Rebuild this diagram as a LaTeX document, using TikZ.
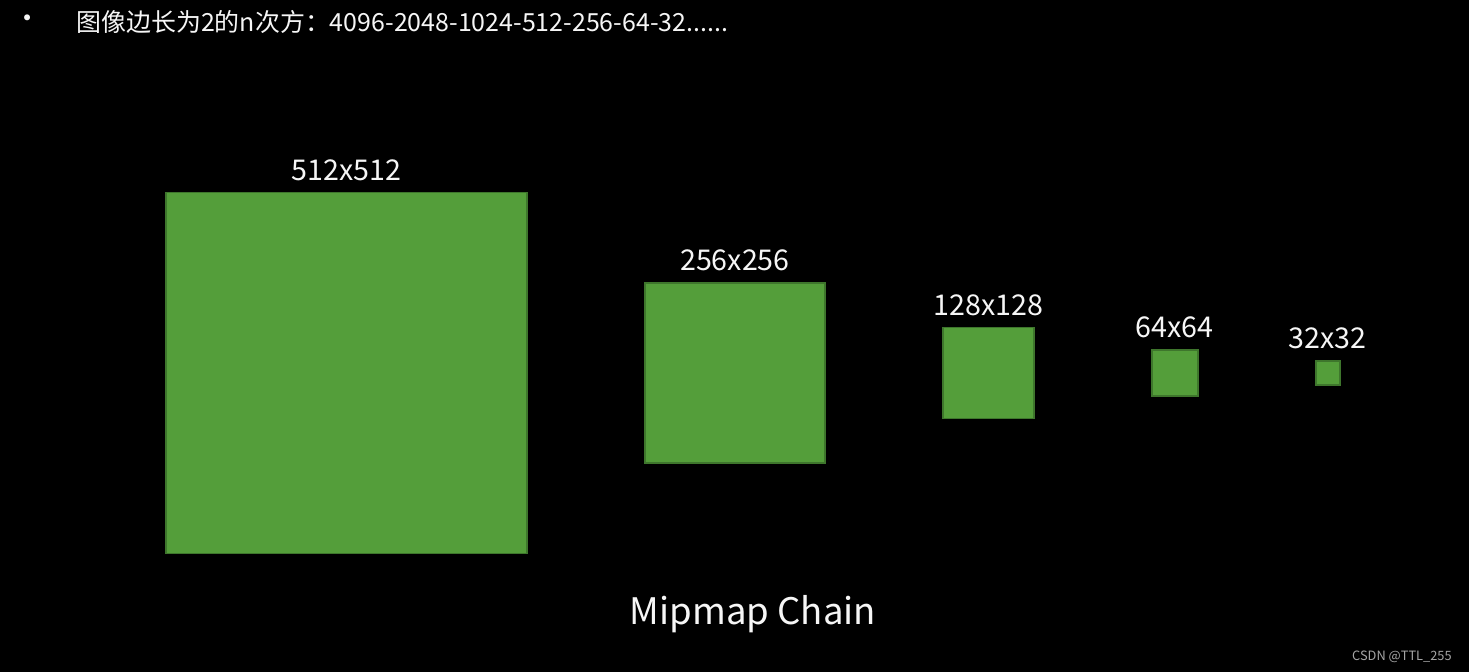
\documentclass[tikz,border=0pt]{standalone}
\usepackage{fontspec}
\setmainfont{Noto Sans CJK SC}
\usepackage{tikz}
\usetikzlibrary{positioning}
\usepackage{xcolor}
\definecolor{MipGreen}{RGB}{84,158,58}
\definecolor{MipEdge}{RGB}{62,118,44}
\definecolor{TextWhite}{RGB}{246,246,246}
\definecolor{MarkGray}{RGB}{165,165,165}

\begin{document}
\begin{tikzpicture}[
  x=0.02cm, y=-0.02cm,
  node distance=2.36cm,
  level/.style={draw=MipEdge, fill=MipGreen, line width=0.8pt, inner sep=0pt, outer sep=0pt},
  sizelabel/.style={text=TextWhite, font=\fontsize{16.3}{19}\selectfont, inner sep=0pt},
  toptext/.style={text=TextWhite, font=\fontsize{14.2}{17}\selectfont, inner sep=0pt}
]
% background
\fill[black] (0,0) rectangle (1469,672);
\useasboundingbox (0,0) rectangle (1469,672);

% heading line
\node[toptext, font=\fontsize{16}{18}\selectfont] (dot) at (28,22) {•};
\node[toptext, anchor=base west] (head) at (76,32) {图像边长为2的n次方：4096-2048-1024-512-256-64-32......};

% mipmap levels
\node[level, minimum size=7.22cm] (l512) at (346.5,373) {};
\node[level, minimum size=3.6cm, right=of l512] (l256) {};
\node[level, minimum size=1.82cm, right=of l256] (l128) {};
\node[level, minimum size=0.92cm, right=of l128] (l64) {};
\node[level, minimum size=0.48cm, right=of l64] (l32) {};

% size labels
\node[sizelabel, above=6.5pt of l512] (t512) {512x512};
\node[sizelabel, above=6.5pt of l256] (t256) {256x256};
\node[sizelabel, above=6.5pt of l128] (t128) {128x128};
\node[sizelabel, above=6.5pt of l64] (t64) {64x64};
\node[sizelabel, above=6.5pt of l32] (t32) {32x32};

% caption
\node[sizelabel, font=\fontsize{20.8}{24}\selectfont, anchor=base] (chain) at (753,624) {Mipmap Chain};

% watermark
\node[text=MarkGray, font=\fontsize{7.3}{9}\selectfont, anchor=base east, inner sep=0pt] (mark) at (1452,660) {CSDN @TTL\_255};
\end{tikzpicture}
\end{document}
